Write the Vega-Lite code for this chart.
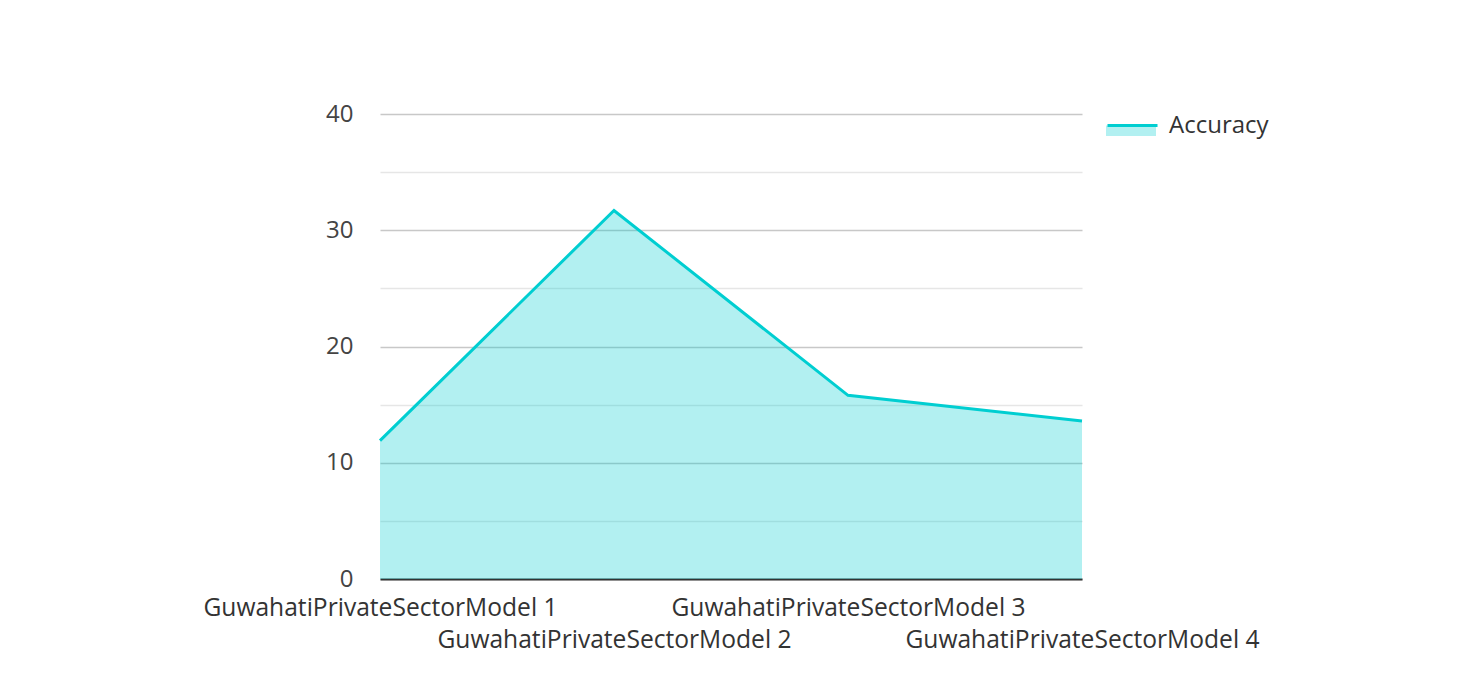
{
  "$schema": "https://vega.github.io/schema/vega-lite/v6.json",
  "autosize": {"type": "none"},
  "padding": {"left": 380, "top": 114, "right": 376, "bottom": 117},
  "width": 702,
  "height": 465,
  "background": "white",
  "config": {
    "view": {"stroke": null},
    "font": "Open Sans"
  },
  "data": {
    "values": [
      {"model": "GuwahatiPrivateSectorModel 1", "series": "Accuracy", "accuracy": 11.9},
      {"model": "GuwahatiPrivateSectorModel 2", "series": "Accuracy", "accuracy": 31.7},
      {"model": "GuwahatiPrivateSectorModel 3", "series": "Accuracy", "accuracy": 15.8},
      {"model": "GuwahatiPrivateSectorModel 4", "series": "Accuracy", "accuracy": 13.6}
    ]
  },
  "encoding": {
    "x": {
      "field": "model",
      "type": "nominal",
      "sort": null,
      "scale": {"type": "point", "padding": 0},
      "axis": {
        "title": null,
        "labelAngle": 0,
        "labelFontSize": 24.6,
        "labelColor": "#333333",
        "labelPadding": 17,
        "labelLimit": 0,
        "labelLineHeight": 32,
        "labelBound": false,
        "ticks": false,
        "domainColor": "#333333",
        "domainWidth": 2,
        "grid": false,
        "labelOverlap": false,
        "labelExpr": "test(/[24]$/, datum.value) ? ['', datum.label] : datum.label"
      }
    },
    "y": {
      "field": "accuracy",
      "type": "quantitative",
      "scale": {"domain": [0, 40], "nice": false},
      "axis": {
        "title": null,
        "values": [0, 5, 10, 15, 20, 25, 30, 35, 40],
        "labelExpr": "datum.value % 10 === 0 ? datum.label : ''",
        "labelFontSize": 24,
        "labelColor": "#444444",
        "labelPadding": 27,
        "ticks": false,
        "domain": false,
        "gridColor": {"condition": {"test": "datum.value % 10 === 0", "value": "#c8c8c8"}, "value": "#e6e6e6"},
        "gridWidth": 1.5
      }
    }
  },
  "layer": [
    {
      "mark": {"type": "area", "opacity": 0.3},
      "encoding": {
        "fill": {
          "field": "series",
          "type": "nominal",
          "scale": {"range": ["#00CED1"]},
          "legend": {
            "title": null,
            "orient": "none",
            "legendX": 726,
            "legendY": -15,
            "symbolType": "M-1,0.06H1V0.48H-1Z",
            "symbolSize": 2500,
            "symbolStrokeWidth": 0,
            "symbolOpacity": 0.3,
            "labelFontSize": 24,
            "labelExpr": "''",
            "labelOffset": 10
          }
        }
      }
    },
    {
      "mark": {"type": "line", "strokeWidth": 3},
      "encoding": {
        "stroke": {
          "datum": "Accuracy",
          "type": "nominal",
          "scale": {"range": ["#00CED1"]},
          "legend": {
            "title": null,
            "orient": "none",
            "legendX": 726,
            "legendY": -15,
            "symbolType": "stroke",
            "symbolSize": 2500,
            "symbolStrokeWidth": 3,
            "labelFontSize": 24,
            "labelColor": "#333333",
            "labelOffset": 10
          }
        }
      }
    }
  ]
}
